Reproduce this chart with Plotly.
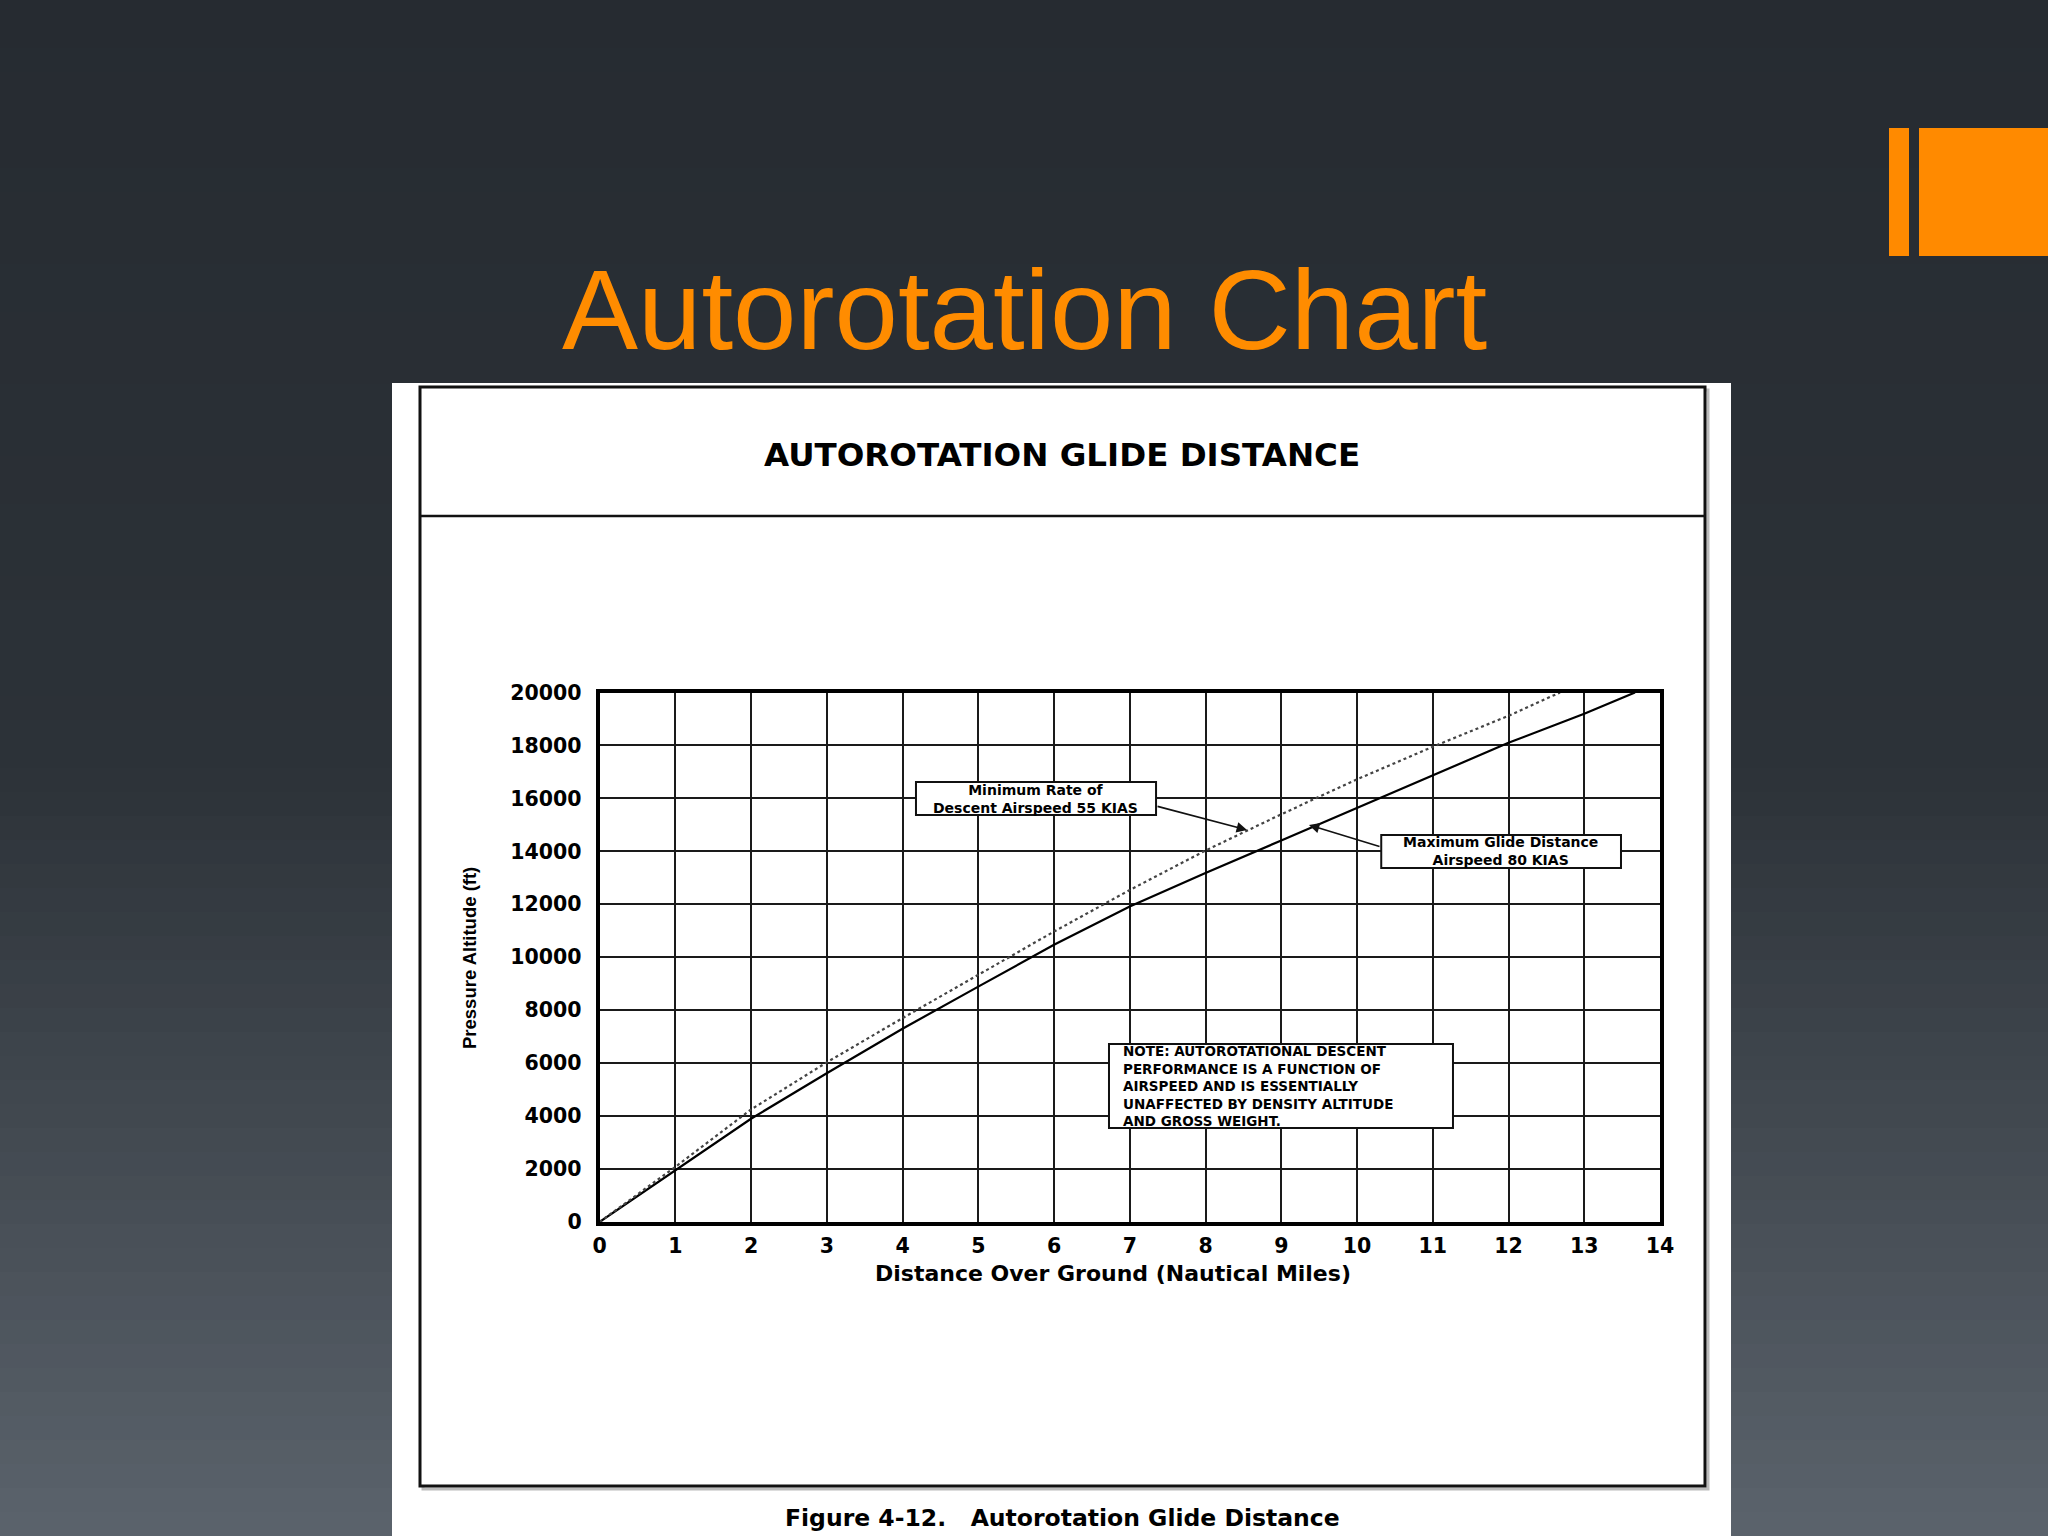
import plotly.graph_objects as go

# ---------------- data ----------------
dist_80kias = [0, 1, 2, 3, 4, 5, 6, 7, 8, 9, 10, 11, 12, 13, 13.67]
alt_80kias = [0, 1950, 3900, 5620, 7300, 8890, 10470, 11920, 13185, 14410, 15640, 16900, 18100, 19200, 20000]

dist_55kias = [0, 1, 2, 3, 4, 5, 6, 7, 8, 9, 10, 11, 12, 12.68]
alt_55kias = [0, 2080, 4250, 6030, 7700, 9350, 10970, 12540, 14030, 15400, 16720, 17950, 19120, 20000]

x_ticks = list(range(0, 15))
y_ticks = list(range(0, 20001, 2000))

slide_title = "Autorotation Chart"
chart_title = "AUTOROTATION GLIDE DISTANCE"
caption = "Figure 4-12.&nbsp;&nbsp; Autorotation Glide Distance"
x_title = "Distance Over Ground (Nautical Miles)"
y_title = "Pressure Altitude (ft)"
label_55 = "Minimum Rate of<br>Descent Airspeed 55 KIAS"
label_80 = "Maximum Glide Distance<br>Airspeed 80 KIAS"
note_text = ("NOTE: AUTOROTATIONAL DESCENT<br>PERFORMANCE IS A FUNCTION OF<br>"
             "AIRSPEED AND IS ESSENTIALLY<br>UNAFFECTED BY DENSITY ALTITUDE<br>"
             "AND GROSS WEIGHT.")

# ---------------- helpers ----------------
W, H = 2048, 1536
def PX(x):
    return x / W
def PY(y):
    return 1 - y / H

L, R, T, B = 599.5, 1660.0, 692.5, 1222.0

BOLD = dict(family="DejaVu Sans", color="black", weight="bold")

fig = go.Figure()
fig.add_trace(go.Scatter(x=dist_80kias, y=alt_80kias, mode="lines",
                         line=dict(color="black", width=2.2), hoverinfo="skip"))
fig.add_trace(go.Scatter(x=dist_55kias, y=alt_55kias, mode="lines",
                         line=dict(color="#444444", width=2.2, dash="dot"), hoverinfo="skip"))

shapes = []
# background gradient (vertical)
stops = [(0, (38, 43, 49)), (770, (44, 50, 56)), (1536, (91, 99, 108))]
nb = 64
for i in range(nb):
    y0 = H * i / nb
    y1 = H * (i + 1) / nb
    ym = (y0 + y1) / 2
    for (a, ca), (b, cb) in zip(stops[:-1], stops[1:]):
        if a <= ym <= b:
            t = (ym - a) / (b - a)
            c = tuple(int(round(ca[k] + (cb[k] - ca[k]) * t)) for k in range(3))
            break
    shapes.append(dict(type="rect", xref="paper", yref="paper", x0=0, x1=1,
                       y0=max(0, PY(y1 + 0.5)), y1=PY(y0), line=dict(width=0),
                       fillcolor="rgb(%d,%d,%d)" % c, layer="below"))
# orange accent bars
shapes.append(dict(type="rect", xref="paper", yref="paper", x0=PX(1889), x1=PX(1909),
                   y0=PY(256), y1=PY(128), line=dict(width=0), fillcolor="#FF8A00", layer="below"))
shapes.append(dict(type="rect", xref="paper", yref="paper", x0=PX(1919), x1=1,
                   y0=PY(256), y1=PY(128), line=dict(width=0), fillcolor="#FF8A00", layer="below"))
# white panel
shapes.append(dict(type="rect", xref="paper", yref="paper", x0=PX(392), x1=PX(1731),
                   y0=0, y1=PY(383), line=dict(width=0), fillcolor="white", layer="below"))
# inner border shadow + border + header rule
shapes.append(dict(type="rect", xref="paper", yref="paper", x0=PX(423), x1=PX(1708),
                   y0=PY(1489), y1=PY(390), line=dict(width=3, color="#bbbbbb"), layer="below"))
shapes.append(dict(type="rect", xref="paper", yref="paper", x0=PX(420), x1=PX(1705),
                   y0=PY(1486), y1=PY(387), line=dict(width=3, color="#111111"),
                   fillcolor="white", layer="below"))
shapes.append(dict(type="line", xref="paper", yref="paper", x0=PX(420), x1=PX(1705),
                   y0=PY(516), y1=PY(516), line=dict(width=2.5, color="#111111"), layer="below"))

# label boxes (data coords)
def box(x0, x1, y0, y1):
    return dict(type="rect", xref="x", yref="y", x0=x0, x1=x1, y0=y0, y1=y1,
                line=dict(width=2, color="#111111"), fillcolor="white", layer="above")
shapes.append(box(4.178, 7.347, 15373, 16620))
shapes.append(box(10.32, 13.485, 13371, 14618))
shapes.append(box(6.726, 11.267, 3551, 6723))

annotations = [
    dict(text=slide_title, x=PX(1024), y=PY(310), xref="paper", yref="paper",
         showarrow=False, xanchor="center", yanchor="middle",
         font=dict(family="Liberation Sans", size=114, color="#FF8C00")),
    dict(text=chart_title, x=PX(1062), y=PY(454.5), xref="paper", yref="paper",
         showarrow=False, xanchor="center", yanchor="middle", font=dict(BOLD, size=32.5)),
    dict(text=caption, x=PX(1062), y=PY(1518), xref="paper", yref="paper",
         showarrow=False, xanchor="center", yanchor="middle", font=dict(BOLD, size=23.5)),
    dict(text=x_title, x=PX(1113), y=PY(1273.5), xref="paper", yref="paper",
         showarrow=False, xanchor="center", yanchor="middle", font=dict(BOLD, size=22)),
    dict(text=y_title, x=PX(469), y=PY(958), xref="paper", yref="paper", textangle=-90,
         showarrow=False, xanchor="center", yanchor="middle",
         font=dict(family="Liberation Sans", size=18.5, color="black", weight="bold")),
    dict(text=label_55, x=5.762, y=15996, xref="x", yref="y", showarrow=False,
         xanchor="center", yanchor="middle", font=dict(BOLD, size=14)),
    dict(text=label_80, x=11.90, y=13995, xref="x", yref="y", showarrow=False,
         xanchor="center", yanchor="middle", font=dict(BOLD, size=14)),
    dict(text=note_text, x=6.88, y=5137, xref="x", yref="y", showarrow=False, align="left",
         xanchor="left", yanchor="middle", font=dict(BOLD, size=13.5)),
    dict(text="", x=8.548, y=14806, ax=7.347, ay=15713, xref="x", yref="y",
         axref="x", ayref="y", showarrow=True, arrowhead=2, arrowsize=1.3,
         arrowwidth=1.6, arrowcolor="#111111", standoff=0),
    dict(text="", x=9.366, y=14995, ax=10.317, ay=14164, xref="x", yref="y",
         axref="x", ayref="y", showarrow=True, arrowhead=2, arrowsize=1.3,
         arrowwidth=1.6, arrowcolor="#111111", standoff=0),
]

axis_common = dict(showgrid=True, gridcolor="#1a1a1a", gridwidth=2, zeroline=False,
                   showline=True, mirror=True, linecolor="black", linewidth=3.5,
                   ticks="", tickfont=dict(BOLD, size=20.5), fixedrange=True,
                   automargin=False)

fig.update_layout(
    width=W, height=H, margin=dict(l=0, r=0, t=0, b=0, pad=0, autoexpand=False),
    paper_bgcolor="#262b31", plot_bgcolor="white", showlegend=False,
    xaxis=dict(axis_common, range=[0, 14], tickvals=x_ticks,
               ticktext=[str(v) for v in x_ticks], domain=[PX(L), PX(R)],
               ticklabelstandoff=3),
    yaxis=dict(axis_common, range=[0, 20000], tickvals=y_ticks,
               ticktext=[str(v) for v in y_ticks], domain=[PY(B), PY(T)],
               ticklabelstandoff=10),
    shapes=shapes, annotations=annotations,
)

page_fix = ("document.documentElement.style.background='#262b31';"
            "document.body.style.margin='0';"
            "document.body.style.overflow='hidden';")

fig.write_html("out.html", config={"displayModeBar": False}, post_script=page_fix)
